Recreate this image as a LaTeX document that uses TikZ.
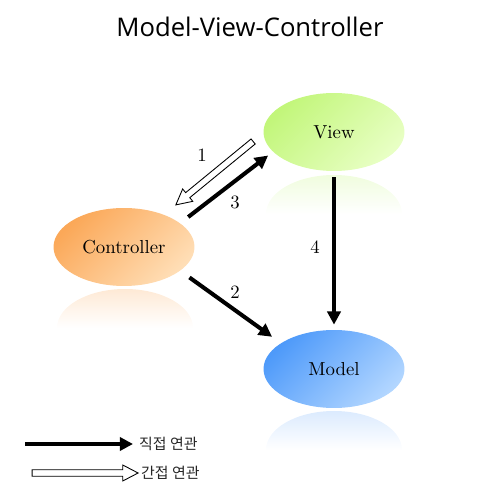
\documentclass[tikz,border=0pt]{standalone}
\usepackage{fontspec}
\newfontfamily\titlefont{Open Sans}
\newfontfamily\korfont{Noto Sans CJK KR}
\usetikzlibrary{shapes.geometric, shapes.arrows, arrows.meta}

\definecolor{viewA}{RGB}{194,246,122}
\definecolor{viewB}{RGB}{232,255,196}
\definecolor{ctrlA}{RGB}{251,168,88}
\definecolor{ctrlB}{RGB}{255,222,182}
\definecolor{modelA}{RGB}{78,154,250}
\definecolor{modelB}{RGB}{178,214,255}

\begin{document}
\begin{tikzpicture}[x=0.02cm, y=0.02cm,
  box/.style={ellipse, minimum width=2.82cm, minimum height=1.56cm, inner sep=0pt,
    font=\fontsize{10.7}{13}\selectfont},
  paint/.style 2 args={top color=#1, bottom color=#2, shading angle=45},
  mirror/.style={top color=#1, bottom color=white, middle color=white},
  direct/.style={line width=2.3pt, -{Triangle[length=7.5pt, width=7.5pt]}},
  indirect/.style={single arrow, draw, line width=0.5pt, fill=white, inner sep=1.6pt,
    single arrow head extend=2.7pt, single arrow tip angle=55,
    single arrow head indent=0pt, sloped, allow upside down},
  num/.style={font=\fontsize{10.7}{13}\selectfont},
  legend/.style={font=\korfont\fontsize{8.5}{10}\selectfont, text=black!85}]

  \useasboundingbox (0,0) rectangle (500,500);

  % Title
  \node[font=\titlefont\fontsize{14.6}{17}\selectfont, anchor=base] (title) at (250,463) {Model-View-Controller};

  % Reflections
  \shade[mirror=viewA!25] (334,286) ellipse (68 and 39);
  \shade[mirror=ctrlA!25] (125,172) ellipse (68 and 39);
  \shade[mirror=modelA!20] (334,50) ellipse (68 and 39);

  % Components
  \node[box, paint={viewA}{viewB}] (view) at (334,368) {View};
  \node[box, paint={ctrlA}{ctrlB}] (ctrl) at (124,253) {Controller};
  \node[box, paint={modelA}{modelB}] (model) at (334,131) {Model};

  % Associations
  \path (view.181) -- (ctrl.39) node[indirect, pos=0.467, minimum height=2cm] (ind) {};
  \draw[direct, shorten <=0.2cm, shorten >=0.12cm] (ctrl.23) -- (view.198);
  \draw[direct, shorten <=0.226cm, shorten >=0.214cm] (ctrl.337) -- (model.154);
  \draw[direct, shorten <=0.12cm, shorten >=0.1cm] (view.south) -- (model.north);

  % Numbers
  \node[num] (n1) at (202,345) {1};
  \node[num] (n3) at (235,298) {3};
  \node[num] (n2) at (235,208) {2};
  \node[num] (n4) at (315,253) {4};

  % Legend
  \coordinate (l1a) at (25,56);
  \coordinate (l1b) at (133,56);
  \coordinate (l2a) at (29,27);
  \coordinate (l2b) at (135,27);
  \draw[direct, line width=2.8pt] (l1a) -- (l1b);
  \path (l2a) -- (l2b) node[indirect, midway, minimum height=2.12cm] (leg) {};
  \node[legend, right] (txt1) at (l1b) {직접 연관};
  \node[legend, right] (txt2) at (l2b) {간접 연관};

\end{tikzpicture}
\end{document}
